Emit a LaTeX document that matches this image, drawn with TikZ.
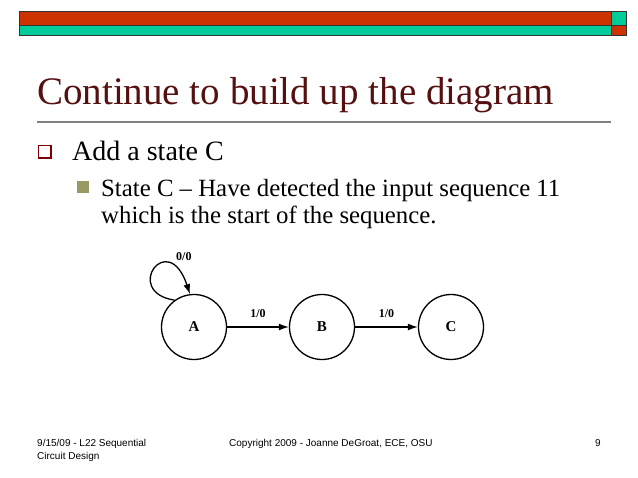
\documentclass[tikz,border=0pt]{standalone}
\usepackage{fontspec}
\setmainfont{Liberation Serif}
\newfontfamily\footfont{Liberation Sans}
\usetikzlibrary{arrows.meta}

\definecolor{barred}{HTML}{CC3300}
\definecolor{barteal}{HTML}{00CC99}
\definecolor{titlered}{HTML}{551111}
\definecolor{boxred}{HTML}{800000}
\definecolor{subolive}{HTML}{999966}

\tikzset{
  state/.style={circle, draw, line width=1.3pt, minimum size=65pt, inner sep=0pt,
    font=\fontsize{15}{17}\selectfont\bfseries},
  edgelabel/.style={font=\fontsize{12}{14}\selectfont\bfseries},
  trans/.style={line width=1.3pt, -{Latex[length=10pt,width=7pt]}},
  txt/.style={anchor=base west, inner sep=0pt},
}

\begin{document}
\begin{tikzpicture}[x=1pt, y=-1pt]
    \useasboundingbox[fill=white] (0,0) rectangle (638,478);
    % header bars
    \draw[fill=barred, draw=black!80] (19,11) rectangle (611,25);
    \draw[fill=barteal, draw=black!80] (19,25) rectangle (611,35);
    \draw[fill=barteal, draw=black!80] (611,11) rectangle (626,25);
    \draw[fill=barred, draw=black!80] (611,25) rectangle (626,35);
    % title
    \node[txt, text=titlered, font=\fontsize{39}{45}\selectfont] (title) at (37,105) {Continue to build up the diagram};
    \draw[line width=1.6pt, black!50] (37,122) -- (611,122);
    % bullets
    \draw[boxred, line width=1.6pt] (38.5,145.5) rectangle (51,158);
    \node[txt, font=\fontsize{28}{32}\selectfont] (item) at (72,161) {Add a state C};
    \fill[subolive] (77,181) rectangle (89,193);
    \node[txt, font=\fontsize{24.8}{28}\selectfont] (sub1) at (101,197) {State C -- Have detected the input sequence 11};
    \node[txt, font=\fontsize{24.8}{28}\selectfont] (sub2) at (101,224) {which is the start of the sequence.};
    % states
    \node[state] (a) at (194,327) {A};
    \node[state] (b) at (322,327) {B};
    \node[state] (c) at (451,327) {C};
    \draw[trans] (a.126) .. controls (122,292) and (168,228) .. (a.97)
      node[pos=0.75, xshift=13pt, yshift=9pt, edgelabel] {0/0};
    \draw[trans] (a) -- (b) node[midway, above=5pt, edgelabel] {1/0};
    \draw[trans] (b) -- (c) node[midway, above=5pt, edgelabel] {1/0};
    % footer
    \node[txt, font=\footfont\fontsize{10}{13}\selectfont] (foot1) at (37,447) {9/15/09 - L22 Sequential};
    \node[txt, font=\footfont\fontsize{10}{13}\selectfont] (foot2) at (37,460) {Circuit Design};
    \node[txt, font=\footfont\fontsize{10}{13}\selectfont] (copy) at (229,447) {Copyright 2009 - Joanne DeGroat, ECE, OSU};
    \node[txt, font=\footfont\fontsize{10}{13}\selectfont] (page) at (595,447) {9};
  \end{tikzpicture}
\end{document}
